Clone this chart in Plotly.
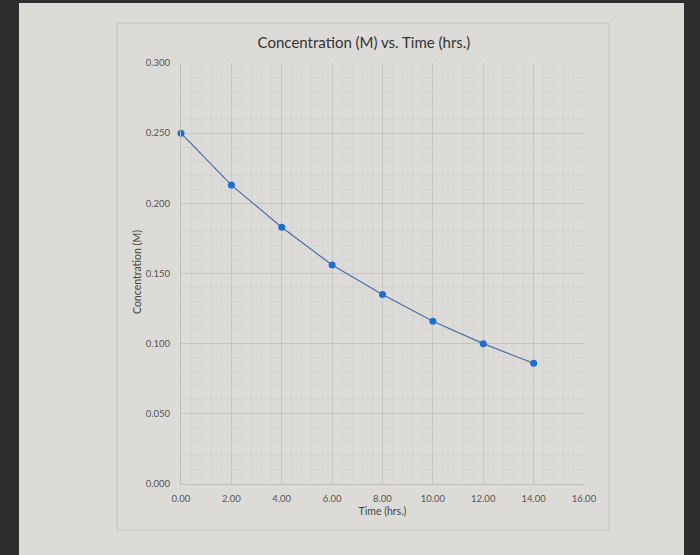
import plotly.graph_objects as go

time_hrs = [0, 2, 4, 6, 8, 10, 12, 14]
concentration = [0.250, 0.213, 0.183, 0.156, 0.135, 0.116, 0.100, 0.086]

x_ticks = [0, 2, 4, 6, 8, 10, 12, 14, 16]
x_tick_text = ["0.00", "2.00", "4.00", "6.00", "8.00", "10.00", "12.00", "14.00", "16.00"]
y_ticks = [0.0, 0.05, 0.10, 0.15, 0.20, 0.25, 0.30]
y_tick_text = ["0.000", "0.050", "0.100", "0.150", "0.200", "0.250", "0.300"]

font_family = "Lato, 'Open Sans', sans-serif"
bg = "#dcdbd7"

fig = go.Figure()
fig.add_trace(go.Scatter(
    x=time_hrs, y=concentration, mode="lines+markers",
    line=dict(color="#4a6ea8", width=1.2),
    marker=dict(color="#1c6fd0", size=7),
    cliponaxis=False,
    showlegend=False,
))

fig.update_layout(
    width=700, height=555,
    margin=dict(l=181, r=116, t=63, b=71),
    paper_bgcolor=bg, plot_bgcolor=bg,
    title=dict(text="Concentration (M) vs. Time (hrs.)", x=0.52, xanchor="center",
               y=1 - 43 / 555, yanchor="middle",
               font=dict(family=font_family, size=15, color="#333333")),
    font=dict(family=font_family, color="#555555"),
    annotations=[
        dict(text="Concentration (M)", xref="paper", yref="paper",
             x=(137 - 181) / 403, y=(484 - 272) / 421, textangle=-90,
             showarrow=False, xanchor="center", yanchor="middle",
             font=dict(size=10.5, color="#444444")),
    ],
    shapes=[
        dict(type="rect", xref="paper", yref="paper", layer="below",
             x0=(117 - 181) / 403, x1=(609 - 181) / 403,
             y0=(484 - 530) / 421, y1=(484 - 23) / 421,
             line=dict(color="#c4c4c0", width=1), fillcolor=bg),
        dict(type="rect", xref="paper", yref="paper", layer="above",
             x0=(0 - 181) / 403, x1=(19 - 181) / 403,
             y0=(484 - 560) / 421, y1=(484 + 5) / 421,
             line=dict(width=0), fillcolor="#2e2e2e"),
        dict(type="rect", xref="paper", yref="paper", layer="above",
             x0=(684 - 181) / 403, x1=(705 - 181) / 403,
             y0=(484 - 560) / 421, y1=(484 + 5) / 421,
             line=dict(width=0), fillcolor="#2e2e2e"),
        dict(type="rect", xref="paper", yref="paper", layer="above",
             x0=(0 - 181) / 403, x1=(705 - 181) / 403,
             y0=(484 - 3) / 421, y1=(484 + 5) / 421,
             line=dict(width=0), fillcolor="#2e2e2e"),
    ],
)

fig.update_xaxes(
    range=[0, 16], tickvals=x_ticks, ticktext=x_tick_text,
    showgrid=True, gridcolor="#c6c6c2", gridwidth=1,
    minor=dict(dtick=0.4, showgrid=True, gridcolor="#d5d4d0", gridwidth=1),
    showline=True, linecolor="#bdbdb9", zeroline=False,
    ticks="", tickfont=dict(size=9.5, color="#555555"), ticklabelstandoff=6,
    title=dict(text="Time (hrs.)", font=dict(size=10.5, color="#444444"), standoff=4),
)
fig.update_yaxes(
    range=[0, 0.3], tickvals=y_ticks, ticktext=y_tick_text,
    showgrid=True, gridcolor="#c6c6c2", gridwidth=1,
    minor=dict(dtick=0.01, showgrid=True, gridcolor="#d5d4d0", gridwidth=1),
    showline=True, linecolor="#bdbdb9", zeroline=False,
    ticks="", tickfont=dict(size=9.5, color="#555555"), ticklabelstandoff=8,
)

fig.write_html("out.html")
